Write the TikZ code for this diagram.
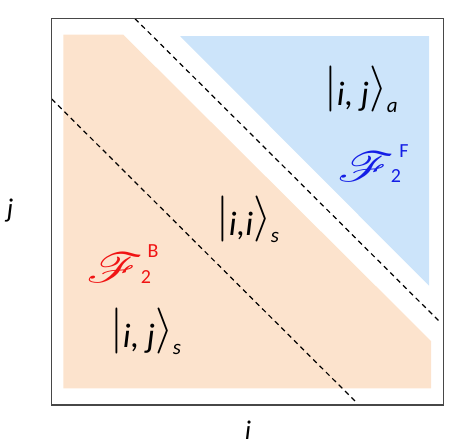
\documentclass[tikz,border=0pt]{standalone}
\usepackage{graphicx}
\usepackage{fontspec}
\setmainfont{Carlito}
\DeclareFontFamily{U}{myrsfs}{\skewchar\font=127}
\DeclareFontShape{U}{myrsfs}{m}{n}{<-> rsfs10}{}
\newcommand{\scrF}{{\usefont{U}{myrsfs}{m}{n}F}}
\newcommand{\bigdelim}[1]{\raisebox{5pt}{\resizebox*{!}{46pt}{$#1$}}}
\newcommand{\myket}[2]{\bigdelim{|}{\itshape #1}\bigdelim{\rangle}\raisebox{-7pt}{\fontsize{21}{21}\selectfont\itshape #2}}
\definecolor{orng}{RGB}{252,227,205}
\definecolor{blu}{RGB}{204,228,250}
\definecolor{fred}{RGB}{240,20,20}
\definecolor{fblue}{RGB}{20,30,230}
\tikzset{
  frame/.style={draw=black!72, line width=1.4pt},
  dashln/.style={draw=black, line width=1.2pt, dash pattern=on 5pt off 4pt},
  ket/.style={inner sep=0pt, font=\fontsize{34}{38}\selectfont},
  scr/.style={inner sep=0pt, font=\fontsize{42}{44}\selectfont, xscale=1.3},
  scrip/.style={inner sep=0pt, font=\fontsize{20}{22}\selectfont},
  axlab/.style={inner sep=0pt, font=\fontsize{27}{29}\selectfont\itshape}
}
\begin{document}
\begin{tikzpicture}[x=1pt,y=-1pt]
\useasboundingbox (0,0) rectangle (474,447);
% regions
\fill[orng] (63.3,34.7) -- (123.3,34.7) -- (431,341) -- (431,388.3) -- (63.3,388.3) -- cycle;
\fill[blu] (180,36) -- (429,36) -- (429,285.7) -- cycle;
% dashed diagonals
\coordinate (d1a) at (135,18.7);
\coordinate (d1b) at (440.7,322.7);
\coordinate (d2a) at (51.7,99);
\coordinate (d2b) at (357.3,403.3);
\draw[dashln] (d1a) -- (d1b);
\draw[dashln] (d2a) -- (d2b);
% frame
\draw[frame] (51.7,18.7) rectangle (443.3,405);
% kets
\node[ket, anchor=west] (ka) at (324,89) {\myket{i, j}{a}};
\node[ket, anchor=west] (kii) at (216,219) {\myket{i,i}{s}};
\node[ket, anchor=west] (ks) at (110,331) {\myket{i, j}{s}};
% script F labels
\node[scr, text=fblue] (FF) at (362,167) {\scrF};
\node[scrip, text=fblue] (FFsup) at (404,151) {F};
\node[scrip, text=fblue] (FFsub) at (396,176) {2};
\node[scr, text=fred] (FB) at (111,268) {\scrF};
\node[scrip, text=fred] (FBsup) at (153,251) {B};
\node[scrip, text=fred] (FBsub) at (146,277) {2};
% axis labels
\node[axlab] (jl) at (10,211) {j};
\node[axlab] (il) at (248,430) {i};
\end{tikzpicture}
\end{document}
